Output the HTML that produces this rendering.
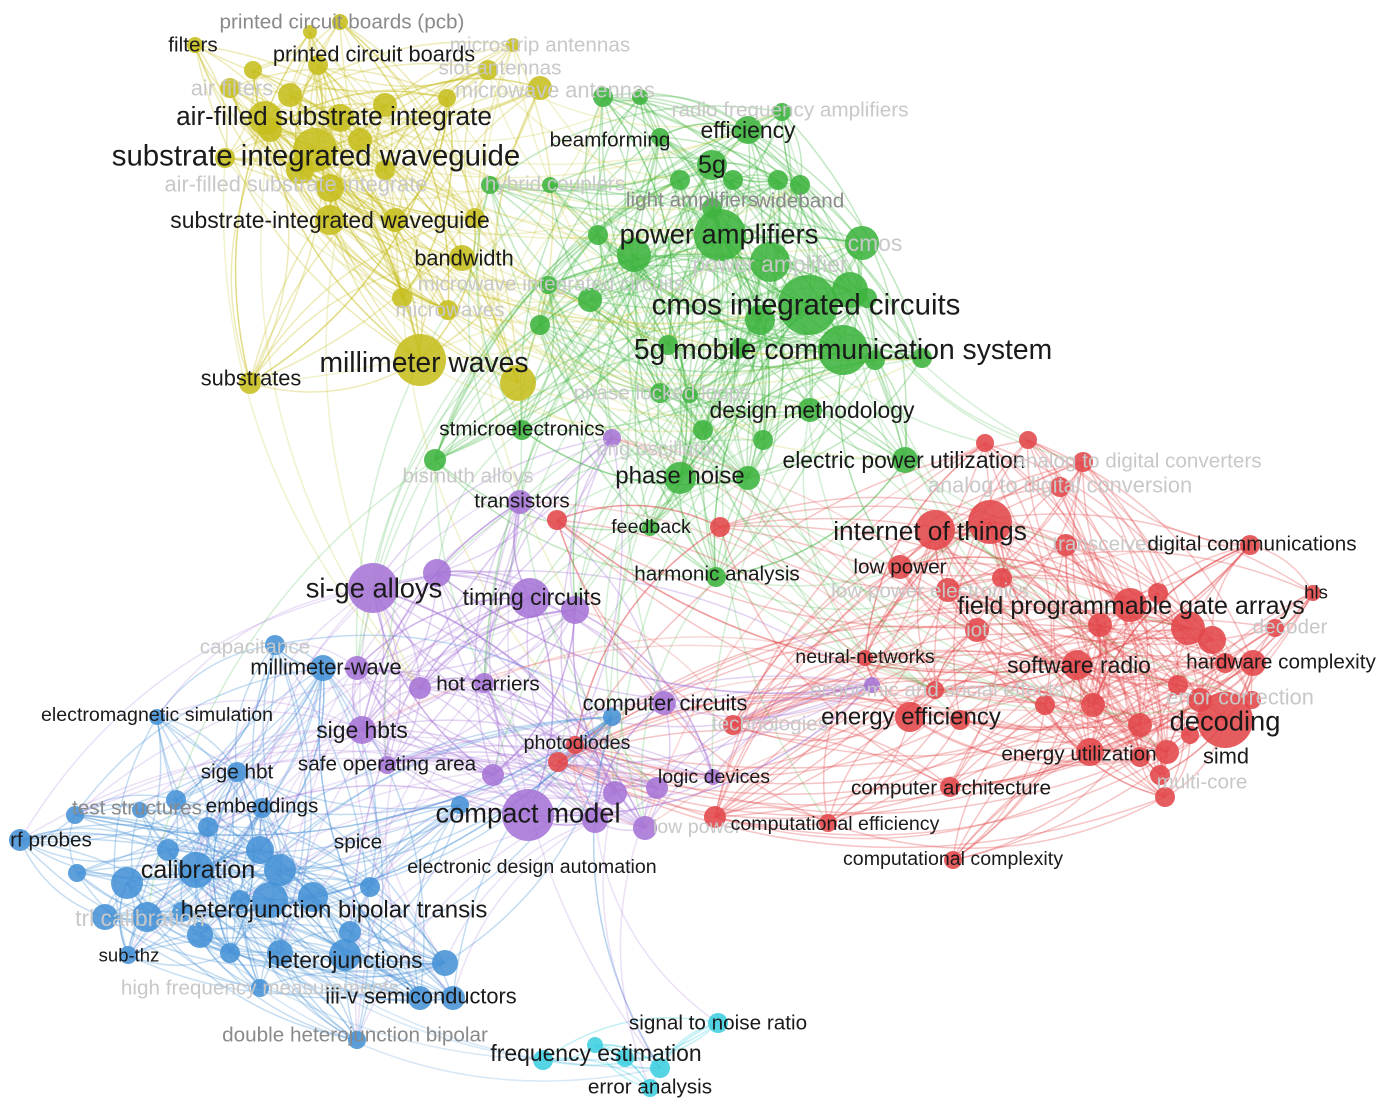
<!DOCTYPE html>
<html><head><meta charset="utf-8"><style>
html,body{margin:0;padding:0;background:#fff;width:1397px;height:1110px;overflow:hidden}
svg{display:block}
text{font-family:"Liberation Sans",sans-serif;text-anchor:middle;dominant-baseline:central}
.d{fill:#1a1a1a}.f{fill:#c8c8c8}.g{fill:#8a8a8a}
</style></head><body>
<svg id="s" width="1397" height="1110" viewBox="0 0 1397 1110" xmlns="http://www.w3.org/2000/svg">
<g id="edges"></g><g id="nodes"></g>
<g id="labels">
<text class="g" x="342" y="22" font-size="19">printed circuit boards (pcb)</text>
<text class="d" x="193" y="45" font-size="19">filters</text>
<text class="d" x="374" y="54" font-size="20">printed circuit boards</text>
<text class="f" x="540" y="45" font-size="19">microstrip antennas</text>
<text class="f" x="500" y="68" font-size="19">slot antennas</text>
<text class="f" x="232" y="88" font-size="20">air filters</text>
<text class="f" x="555" y="90" font-size="20">microwave antennas</text>
<text class="f" x="790" y="110" font-size="19">radio frequency amplifiers</text>
<text class="d" x="334" y="116" font-size="24">air-filled substrate integrate</text>
<text class="d" x="610" y="140" font-size="19">beamforming</text>
<text class="d" x="748" y="130" font-size="21">efficiency</text>
<text class="d" x="316" y="156" font-size="27">substrate integrated waveguide</text>
<text class="d" x="712" y="165" font-size="23">5g</text>
<text class="f" x="296" y="184" font-size="20">air-filled substrate integrate</text>
<text class="f" x="555" y="184" font-size="19">hybrid couplers</text>
<text class="g" x="692" y="200" font-size="19">light amplifiers</text>
<text class="g" x="800" y="201" font-size="19">wideband</text>
<text class="d" x="330" y="220" font-size="21">substrate-integrated waveguide</text>
<text class="d" x="719" y="234" font-size="25">power amplifiers</text>
<text class="f" x="875" y="243" font-size="21">cmos</text>
<text class="d" x="464" y="258" font-size="20">bandwidth</text>
<text class="f" x="770" y="264" font-size="21">power amplifier</text>
<text class="f" x="551" y="284" font-size="19">microwave integrated circuits</text>
<text class="d" x="806" y="305" font-size="27">cmos integrated circuits</text>
<text class="f" x="450" y="310" font-size="19">microwaves</text>
<text class="d" x="843" y="349" font-size="26">5g mobile communication system</text>
<text class="d" x="424" y="362" font-size="26">millimeter waves</text>
<text class="d" x="251" y="378" font-size="20">substrates</text>
<text class="f" x="662" y="393" font-size="19">phase locked loops</text>
<text class="d" x="812" y="410" font-size="21">design methodology</text>
<text class="d" x="522" y="429" font-size="19">stmicroelectronics</text>
<text class="f" x="657" y="449" font-size="19">ring oscillator</text>
<text class="d" x="904" y="460" font-size="21">electric power utilization</text>
<text class="f" x="1138" y="461" font-size="19">analog to digital converters</text>
<text class="f" x="468" y="476" font-size="19">bismuth alloys</text>
<text class="d" x="680" y="476" font-size="22">phase noise</text>
<text class="f" x="1060" y="485" font-size="20">analog to digital conversion</text>
<text class="d" x="522" y="501" font-size="19">transistors</text>
<text class="d" x="651" y="527" font-size="18">feedback</text>
<text class="d" x="930" y="531" font-size="24">internet of things</text>
<text class="f" x="1108" y="544" font-size="19">transceivers</text>
<text class="d" x="1252" y="544" font-size="19">digital communications</text>
<text class="d" x="717" y="574" font-size="19">harmonic analysis</text>
<text class="d" x="900" y="567" font-size="19">low power</text>
<text class="f" x="930" y="591" font-size="19">low power electronics</text>
<text class="d" x="374" y="588" font-size="25">si-ge alloys</text>
<text class="d" x="532" y="597" font-size="21">timing circuits</text>
<text class="d" x="1131" y="606" font-size="23">field programmable gate arrays</text>
<text class="d" x="1316" y="592" font-size="17">hls</text>
<text class="f" x="1290" y="627" font-size="19">decoder</text>
<text class="f" x="977" y="630" font-size="19">iot</text>
<text class="f" x="255" y="647" font-size="19">capacitance</text>
<text class="d" x="865" y="657" font-size="18">neural-networks</text>
<text class="d" x="1079" y="665" font-size="21">software radio</text>
<text class="d" x="1281" y="662" font-size="19">hardware complexity</text>
<text class="d" x="326" y="667" font-size="20">millimeter-wave</text>
<text class="d" x="488" y="684" font-size="19">hot carriers</text>
<text class="f" x="937" y="690" font-size="19">economic and social effects</text>
<text class="f" x="1240" y="697" font-size="20">error correction</text>
<text class="d" x="665" y="703" font-size="20">computer circuits</text>
<text class="d" x="157" y="715" font-size="18">electromagnetic simulation</text>
<text class="f" x="770" y="724" font-size="19">technologies</text>
<text class="d" x="911" y="717" font-size="22">energy efficiency</text>
<text class="d" x="1225" y="721" font-size="25">decoding</text>
<text class="d" x="362" y="730" font-size="21">sige hbts</text>
<text class="d" x="577" y="743" font-size="18">photodiodes</text>
<text class="d" x="1079" y="754" font-size="19">energy utilization</text>
<text class="d" x="1226" y="756" font-size="20">simd</text>
<text class="d" x="387" y="764" font-size="19">safe operating area</text>
<text class="d" x="237" y="772" font-size="19">sige hbt</text>
<text class="d" x="714" y="777" font-size="18">logic devices</text>
<text class="f" x="1202" y="782" font-size="19">multi-core</text>
<text class="d" x="951" y="788" font-size="19">computer architecture</text>
<text class="g" x="137" y="808" font-size="19">test structures</text>
<text class="d" x="262" y="806" font-size="19">embeddings</text>
<text class="d" x="528" y="813" font-size="25">compact model</text>
<text class="f" x="697" y="827" font-size="18">low power</text>
<text class="d" x="835" y="824" font-size="18">computational efficiency</text>
<text class="d" x="51" y="840" font-size="19">rf probes</text>
<text class="d" x="358" y="842" font-size="19">spice</text>
<text class="d" x="953" y="859" font-size="18">computational complexity</text>
<text class="d" x="532" y="867" font-size="18">electronic design automation</text>
<text class="d" x="198" y="870" font-size="23">calibration</text>
<text class="d" x="334" y="910" font-size="22">heterojunction bipolar transis</text>
<text class="f" x="140" y="918" font-size="21">trl calibration</text>
<text class="d" x="129" y="955" font-size="17">sub-thz</text>
<text class="d" x="345" y="960" font-size="21">heterojunctions</text>
<text class="f" x="260" y="988" font-size="19">high frequency measurements</text>
<text class="d" x="421" y="996" font-size="20">iii-v semiconductors</text>
<text class="d" x="718" y="1023" font-size="19">signal to noise ratio</text>
<text class="g" x="355" y="1035" font-size="19">double heterojunction bipolar</text>
<text class="d" x="596" y="1053" font-size="21">frequency estimation</text>
<text class="d" x="650" y="1087" font-size="19">error analysis</text>
</g>
</svg>
<script>
Array.prototype.forEach.call(document.querySelectorAll("#labels text"),function(t){t.setAttribute("font-size",(parseFloat(t.getAttribute("font-size"))*1.09).toFixed(1));});
var C={Y:"#c6be1e",G:"#3db43f",R:"#e2474a",P:"#a674d6",B:"#4692d6",T:"#3ecfe0"};
var N={
Y:[[340,22,8],[310,32,7],[195,45,8],[253,70,9],[318,65,10],[230,88,10],[290,95,12],[265,118,17],[315,150,22],[340,118,14],[385,105,12],[330,188,14],[385,170,10],[225,158,10],[330,220,15],[395,220,12],[475,218,10],[462,258,13],[402,298,10],[448,310,10],[420,360,26],[518,383,18],[250,383,11],[513,45,7],[488,70,10],[540,88,12],[447,98,9],[300,170,14],[360,140,12],[270,130,12]],
G:[[603,97,10],[640,97,8],[782,112,9],[660,137,9],[748,130,14],[712,165,15],[680,180,10],[733,180,10],[778,180,10],[720,235,26],[862,243,17],[634,255,17],[598,235,10],[770,262,20],[808,305,30],[850,290,18],[843,350,25],[760,320,15],[668,345,10],[875,360,10],[922,358,10],[810,410,12],[703,430,10],[763,440,10],[740,348,10],[660,393,10],[690,395,8],[522,430,10],[435,460,11],[680,478,16],[748,478,12],[905,460,13],[540,325,10],[548,285,9],[490,185,9],[550,185,8],[712,208,10],[800,185,10],[867,298,10],[650,528,8],[716,577,10],[590,300,12]],
R:[[985,443,9],[1028,440,9],[1083,462,10],[1060,487,10],[990,522,22],[935,530,20],[1066,545,11],[1250,545,10],[1313,593,8],[900,567,12],[948,590,12],[1002,578,10],[1130,605,17],[1100,625,12],[1188,628,17],[1212,640,14],[1275,628,9],[1158,593,10],[977,630,12],[1077,665,15],[1253,663,13],[1225,663,10],[1178,685,10],[1200,700,12],[1225,720,28],[1190,735,9],[1140,725,12],[1093,705,12],[1045,705,10],[1090,752,14],[1167,752,12],[1140,757,10],[910,717,15],[935,690,9],[960,720,10],[950,787,10],[1165,797,10],[1160,775,10],[1252,700,9],[865,658,8],[733,725,10],[715,817,11],[828,823,9],[953,860,9],[557,520,10],[720,527,10],[575,745,9],[558,762,10]],
P:[[373,588,25],[437,573,14],[530,598,20],[575,610,14],[520,502,12],[612,438,9],[357,668,12],[420,688,11],[362,730,14],[664,703,12],[387,765,9],[493,775,11],[528,815,26],[595,820,13],[615,793,12],[657,788,11],[645,828,12],[713,777,8],[872,685,8],[484,683,10]],
B:[[275,645,10],[323,668,13],[157,717,8],[237,772,10],[262,808,10],[176,800,10],[140,810,8],[75,815,9],[20,840,11],[208,827,10],[168,850,11],[127,883,16],[196,870,18],[280,870,16],[77,873,9],[105,917,13],[147,917,15],[200,935,13],[230,953,10],[270,900,18],[313,897,15],[345,955,16],[280,953,13],[260,988,9],[420,998,12],[453,998,12],[445,963,13],[370,887,10],[350,932,11],[357,1040,9],[612,717,9],[460,805,9],[240,900,10],[182,912,10],[128,955,9],[260,850,14]],
T:[[718,1023,10],[543,1060,10],[625,1058,9],[660,1068,10],[650,1088,9],[595,1045,8]]};
var seed=7;function rnd(){seed=(seed*16807)%2147483647;return seed/2147483647;}
var ns="http://www.w3.org/2000/svg",E=document.getElementById("edges"),ND=document.getElementById("nodes");
function edge(a,b,col,op){var mx=(a[0]+b[0])/2,my=(a[1]+b[1])/2,dx=b[0]-a[0],dy=b[1]-a[1];var k=0.22;
var p=document.createElementNS(ns,"path");p.setAttribute("d","M"+a[0]+","+a[1]+" Q"+(mx-dy*k)+","+(my+dx*k)+" "+b[0]+","+b[1]);
p.setAttribute("stroke",col);p.setAttribute("stroke-width","1.5");p.setAttribute("fill","none");p.setAttribute("stroke-opacity",op);E.appendChild(p);}
var keys=Object.keys(N);
keys.forEach(function(k){var L=N[k];L.forEach(function(a,i){var m=k=="T"?3:Math.round(3+a[2]/4);for(var j=0;j<m;j++){var b=L[Math.floor(rnd()*L.length)];if(b!==a)edge(a,b,C[k],0.32);}});});
var pairs=[["Y","G",60],["G","R",45],["P","B",55],["G","P",40],["R","P",25],["Y","B",8],["Y","P",15],["B","T",6],["P","T",4],["G","B",10]];
pairs.forEach(function(q){for(var i=0;i<q[2];i++){var A=N[q[0]],B=N[q[1]];var a=A[Math.floor(rnd()*A.length)],b=B[Math.floor(rnd()*B.length)];var d=Math.hypot(a[0]-b[0],a[1]-b[1]);if(d<600)edge(a,b,C[q[0]],0.22);}});
keys.forEach(function(k){N[k].forEach(function(a){var c=document.createElementNS(ns,"circle");c.setAttribute("cx",a[0]);c.setAttribute("cy",a[1]);c.setAttribute("r",a[2]);c.setAttribute("fill",C[k]);c.setAttribute("fill-opacity","0.88");ND.appendChild(c);});});
</script>
</body></html>
